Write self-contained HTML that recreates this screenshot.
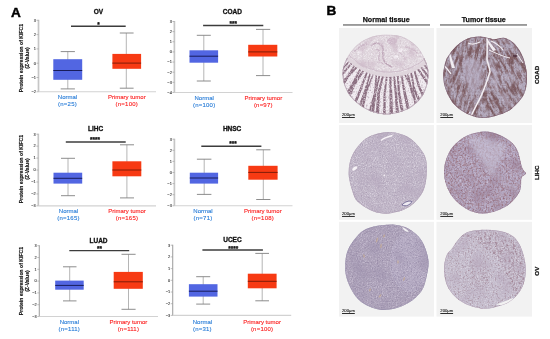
<!DOCTYPE html>
<html><head><meta charset="utf-8"><style>
html,body{margin:0;padding:0;background:#fff;overflow:hidden;}
svg{display:block;}
text{font-family:"Liberation Sans", Arial, sans-serif;}
.tk{font-size:3.9px;fill:#333;stroke:#333;stroke-width:0.1;text-anchor:end;}
.ti{font-size:6.5px;font-weight:bold;fill:#111;stroke:#111;stroke-width:0.3;text-anchor:middle;}
.st{font-size:6.4px;font-weight:bold;fill:#111;stroke:#111;stroke-width:0.25;text-anchor:middle;}
.nl{font-size:6px;fill:#2a7ed8;stroke:#2a7ed8;stroke-width:0.12;text-anchor:middle;}
.tl{font-size:6px;fill:#fc2222;stroke:#fc2222;stroke-width:0.12;text-anchor:middle;}
.l2{letter-spacing:0.22px;}
.yl{font-size:5.1px;font-weight:bold;fill:#111;stroke:#111;stroke-width:0.15;text-anchor:middle;}
.pl{font-size:13.6px;font-weight:bold;fill:#000;stroke:#000;stroke-width:0.45;}
.hd{font-size:7.1px;font-weight:bold;fill:#111;stroke:#111;stroke-width:0.25;text-anchor:middle;}
.rl{font-size:6.2px;font-weight:bold;fill:#111;stroke:#111;stroke-width:0.25;text-anchor:middle;}
.sb{font-size:4.2px;fill:#222;stroke:#222;stroke-width:0.1;}
</style></head><body>
<svg width="550" height="339" viewBox="0 0 550 339">
<defs>
<filter id="f_crn" filterUnits="userSpaceOnUse" x="335" y="25" width="100" height="100" color-interpolation-filters="sRGB"><feTurbulence type="fractalNoise" baseFrequency="0.7" numOctaves="2" seed="11"/><feColorMatrix type="matrix" values="0 0 0 0 0.957 0 0 0 0 0.933 0 0 0 0 0.957 2.2 0 0 0 -1.0"/><feComposite in2="SourceGraphic" operator="in"/></filter><filter id="f_crd" filterUnits="userSpaceOnUse" x="335" y="25" width="100" height="100" color-interpolation-filters="sRGB"><feTurbulence type="fractalNoise" baseFrequency="0.6" numOctaves="2" seed="12"/><feColorMatrix type="matrix" values="0 0 0 0 0.502 0 0 0 0 0.392 0 0 0 0 0.471 1.3 0 0 0 -0.66"/><feComposite in2="SourceGraphic" operator="in"/></filter><clipPath id="lowhalf"><rect x="330" y="58" width="110" height="70"/></clipPath><clipPath id="c_coadn"><path d="M372.5,36.6 C376.9,35.2 380.8,34.8 385.7,34.8 C390.6,34.8 396.8,35.0 401.7,36.6 C406.6,38.2 411.4,41.5 414.9,44.6 C418.4,47.7 420.7,51.0 422.9,55.2 C425.1,59.4 427.5,64.7 428.2,69.8 C428.9,74.9 428.2,80.8 426.9,85.7 C425.6,90.6 423.5,95.0 420.2,99.0 C416.9,103.0 412.3,107.0 407.0,109.6 C401.7,112.2 394.6,114.2 388.4,114.4 C382.2,114.6 375.6,113.2 369.8,110.9 C364.1,108.6 358.1,104.5 353.9,100.3 C349.7,96.1 346.5,90.8 344.6,85.7 C342.8,80.6 342.1,74.9 342.8,69.8 C343.5,64.7 345.9,59.6 348.6,55.2 C351.3,50.8 355.2,46.4 359.2,43.3 C363.2,40.2 368.1,38.0 372.5,36.6Z"/></clipPath><filter id="b_coadn" filterUnits="userSpaceOnUse" x="337.8" y="29.8" width="95.4" height="89.6"><feGaussianBlur stdDeviation="0.35"/></filter><filter id="f_coadn_0" filterUnits="userSpaceOnUse" x="337.8" y="29.799999999999997" width="95.39999999999998" height="89.60000000000001" color-interpolation-filters="sRGB"><feTurbulence type="fractalNoise" baseFrequency="0.5" numOctaves="2" seed="4"/><feColorMatrix type="matrix" values="0 0 0 0 0.761 0 0 0 0 0.678 0 0 0 0 0.741 1.4 0 0 0 -0.65"/><feComposite in2="SourceGraphic" operator="in"/></filter><filter id="f_coadn_1" filterUnits="userSpaceOnUse" x="337.8" y="29.799999999999997" width="95.39999999999998" height="89.60000000000001" color-interpolation-filters="sRGB"><feTurbulence type="fractalNoise" baseFrequency="0.7" numOctaves="2" seed="7"/><feColorMatrix type="matrix" values="0 0 0 0 0.984 0 0 0 0 0.973 0 0 0 0 0.984 1.8 0 0 0 -0.8"/><feComposite in2="SourceGraphic" operator="in"/></filter><filter id="f_coadn_2" filterUnits="userSpaceOnUse" x="337.8" y="29.799999999999997" width="95.39999999999998" height="89.60000000000001" color-interpolation-filters="sRGB"><feTurbulence type="fractalNoise" baseFrequency="0.12 0.1" numOctaves="1" seed="8"/><feColorMatrix type="matrix" values="0 0 0 0 0.804 0 0 0 0 0.725 0 0 0 0 0.784 2.4 0 0 0 -1.15"/><feComposite in2="SourceGraphic" operator="in"/></filter><filter id="soft2" x="-30%" y="-30%" width="160%" height="160%"><feGaussianBlur stdDeviation="1.2"/></filter><filter id="gl_l" filterUnits="userSpaceOnUse" x="400" y="0" width="140" height="160" color-interpolation-filters="sRGB"><feTurbulence type="fractalNoise" baseFrequency="0.34 0.07" numOctaves="2" seed="71"/><feColorMatrix type="matrix" values="0 0 0 0 0.486 0 0 0 0 0.361 0 0 0 0 0.384 4.6 0 0 0 -2.02"/><feComposite in2="SourceGraphic" operator="in"/></filter><filter id="gl_r" filterUnits="userSpaceOnUse" x="400" y="0" width="140" height="160" color-interpolation-filters="sRGB"><feTurbulence type="fractalNoise" baseFrequency="0.34 0.07" numOctaves="2" seed="72"/><feColorMatrix type="matrix" values="0 0 0 0 0.486 0 0 0 0 0.361 0 0 0 0 0.384 4.6 0 0 0 -2.02"/><feComposite in2="SourceGraphic" operator="in"/></filter><clipPath id="hl"><rect x="440" y="30" width="47" height="95"/></clipPath><clipPath id="hr"><rect x="487" y="30" width="45" height="95"/></clipPath><clipPath id="c_coadt"><path d="M466.0,39.2 C470.1,37.2 475.2,36.8 478.9,36.6 C482.6,36.4 485.4,37.5 488.0,37.9 C490.6,38.3 491.7,39.2 494.5,39.2 C497.3,39.2 501.4,37.0 504.8,37.9 C508.2,38.8 512.2,41.2 515.2,44.4 C518.2,47.6 521.0,52.1 523.0,57.3 C525.0,62.5 526.7,69.5 526.9,75.5 C527.1,81.5 526.8,88.1 524.3,93.6 C521.8,99.1 516.2,105.0 512.0,108.5 C507.8,112.0 503.8,113.2 499.0,114.8 C494.2,116.4 488.2,118.1 483.0,118.0 C477.8,117.9 473.0,116.8 468.0,114.3 C463.0,111.8 457.0,108.2 453.0,103.0 C449.0,97.8 445.2,90.0 443.9,83.3 C442.6,76.5 443.5,68.3 445.2,62.5 C446.9,56.7 450.8,52.2 454.3,48.3 C457.8,44.4 461.9,41.2 466.0,39.2Z"/></clipPath><filter id="b_coadt" filterUnits="userSpaceOnUse" x="438.9" y="31.6" width="93.0" height="91.4"><feGaussianBlur stdDeviation="0.5"/></filter><filter id="f_coadt_0" filterUnits="userSpaceOnUse" x="438.9" y="31.6" width="93.0" height="91.4" color-interpolation-filters="sRGB"><feTurbulence type="fractalNoise" baseFrequency="0.35 0.2" numOctaves="2" seed="24"/><feColorMatrix type="matrix" values="0 0 0 0 0.525 0 0 0 0 0.392 0 0 0 0 0.408 2.6 0 0 0 -1.3"/><feComposite in2="SourceGraphic" operator="in"/></filter><filter id="f_coadt_1" filterUnits="userSpaceOnUse" x="438.9" y="31.6" width="93.0" height="91.4" color-interpolation-filters="sRGB"><feTurbulence type="fractalNoise" baseFrequency="0.6" numOctaves="2" seed="23"/><feColorMatrix type="matrix" values="0 0 0 0 0.408 0 0 0 0 0.290 0 0 0 0 0.314 1.2 0 0 0 -0.58"/><feComposite in2="SourceGraphic" operator="in"/></filter><filter id="f_coadt_2" filterUnits="userSpaceOnUse" x="438.9" y="31.6" width="93.0" height="91.4" color-interpolation-filters="sRGB"><feTurbulence type="fractalNoise" baseFrequency="0.5 0.25" numOctaves="2" seed="22"/><feColorMatrix type="matrix" values="0 0 0 0 0.816 0 0 0 0 0.784 0 0 0 0 0.855 1.6 0 0 0 -0.8"/><feComposite in2="SourceGraphic" operator="in"/></filter><clipPath id="c_lihcn"><path d="M381.8,132.8 C386.7,131.8 390.1,131.5 395.0,132.5 C399.9,133.5 406.1,135.3 411.0,139.0 C415.9,142.7 421.6,149.3 424.2,154.5 C426.8,159.7 427.1,164.2 426.9,170.4 C426.7,176.6 426.0,185.5 422.9,191.7 C419.8,197.9 413.8,204.0 408.3,207.6 C402.8,211.2 395.4,212.7 389.7,213.4 C383.9,214.1 379.1,213.5 373.8,211.6 C368.5,209.7 361.5,205.3 358.0,202.0 C354.5,198.7 354.2,196.5 352.6,191.7 C351.0,186.9 348.6,179.2 348.6,173.0 C348.6,166.8 349.7,160.2 352.6,154.5 C355.5,148.8 361.0,142.2 365.9,138.6 C370.8,135.0 376.9,133.8 381.8,132.8Z"/></clipPath><filter id="b_lihcn" filterUnits="userSpaceOnUse" x="343.6" y="127.5" width="88.3" height="90.9"><feGaussianBlur stdDeviation="0.5"/></filter><filter id="f_lihcn_0" filterUnits="userSpaceOnUse" x="343.6" y="127.5" width="88.29999999999995" height="90.9" color-interpolation-filters="sRGB"><feTurbulence type="fractalNoise" baseFrequency="0.8" numOctaves="2" seed="31"/><feColorMatrix type="matrix" values="0 0 0 0 0.635 0 0 0 0 0.580 0 0 0 0 0.675 1.9 0 0 0 -0.9"/><feComposite in2="SourceGraphic" operator="in"/></filter><filter id="f_lihcn_1" filterUnits="userSpaceOnUse" x="343.6" y="127.5" width="88.29999999999995" height="90.9" color-interpolation-filters="sRGB"><feTurbulence type="fractalNoise" baseFrequency="0.9" numOctaves="2" seed="32"/><feColorMatrix type="matrix" values="0 0 0 0 0.902 0 0 0 0 0.878 0 0 0 0 0.918 2.0 0 0 0 -0.95"/><feComposite in2="SourceGraphic" operator="in"/></filter><filter id="f_lihcn_2" filterUnits="userSpaceOnUse" x="343.6" y="127.5" width="88.29999999999995" height="90.9" color-interpolation-filters="sRGB"><feTurbulence type="fractalNoise" baseFrequency="0.07" numOctaves="1" seed="33"/><feColorMatrix type="matrix" values="0 0 0 0 0.706 0 0 0 0 0.651 0 0 0 0 0.737 2.0 0 0 0 -0.95"/><feComposite in2="SourceGraphic" operator="in"/></filter><filter id="soft3" x="-30%" y="-30%" width="160%" height="160%"><feGaussianBlur stdDeviation="2.2"/></filter><clipPath id="c_lihct"><path d="M479.8,132.0 C484.7,131.2 488.5,131.6 493.0,132.8 C497.5,134.0 503.0,136.3 507.0,139.0 C511.0,141.7 514.4,144.4 516.9,149.2 C519.4,154.0 520.7,163.8 522.2,167.8 C523.7,171.9 525.9,171.8 525.8,173.5 C525.7,175.2 522.5,175.0 521.5,178.0 C520.5,181.0 522.1,187.0 519.6,191.7 C517.1,196.4 512.1,202.6 506.3,206.2 C500.5,209.8 491.6,212.9 485.0,213.4 C478.4,213.9 472.2,212.1 466.5,208.9 C460.8,205.7 454.4,200.3 450.6,194.3 C446.9,188.3 444.2,180.2 444.0,173.1 C443.8,166.0 446.0,157.9 449.3,151.9 C452.6,145.9 458.8,140.6 463.9,137.3 C469.0,134.0 474.9,132.8 479.8,132.0Z"/></clipPath><filter id="b_lihct" filterUnits="userSpaceOnUse" x="439.0" y="127.0" width="91.8" height="91.4"><feGaussianBlur stdDeviation="0.5"/></filter><filter id="f_lihct_0" filterUnits="userSpaceOnUse" x="439" y="127" width="91.79999999999995" height="91.4" color-interpolation-filters="sRGB"><feTurbulence type="fractalNoise" baseFrequency="0.6" numOctaves="2" seed="41"/><feColorMatrix type="matrix" values="0 0 0 0 0.557 0 0 0 0 0.392 0 0 0 0 0.439 2.6 0 0 0 -1.2"/><feComposite in2="SourceGraphic" operator="in"/></filter><filter id="f_lihct_1" filterUnits="userSpaceOnUse" x="439" y="127" width="91.79999999999995" height="91.4" color-interpolation-filters="sRGB"><feTurbulence type="fractalNoise" baseFrequency="0.55" numOctaves="2" seed="42"/><feColorMatrix type="matrix" values="0 0 0 0 0.824 0 0 0 0 0.792 0 0 0 0 0.871 2.0 0 0 0 -0.95"/><feComposite in2="SourceGraphic" operator="in"/></filter><filter id="f_lihct_2" filterUnits="userSpaceOnUse" x="439" y="127" width="91.79999999999995" height="91.4" color-interpolation-filters="sRGB"><feTurbulence type="fractalNoise" baseFrequency="0.07" numOctaves="1" seed="43"/><feColorMatrix type="matrix" values="0 0 0 0 0.604 0 0 0 0 0.502 0 0 0 0 0.596 2.0 0 0 0 -0.95"/><feComposite in2="SourceGraphic" operator="in"/></filter><filter id="f_lihct_3" filterUnits="userSpaceOnUse" x="439" y="127" width="91.79999999999995" height="91.4" color-interpolation-filters="sRGB"><feTurbulence type="fractalNoise" baseFrequency="0.5 0.3" numOctaves="2" seed="44"/><feColorMatrix type="matrix" values="0 0 0 0 0.627 0 0 0 0 0.478 0 0 0 0 0.525 2.0 0 0 0 -0.95"/><feComposite in2="SourceGraphic" operator="in"/></filter><clipPath id="c_ovn"><path d="M381.8,225.2 C385.8,224.8 390.6,224.1 395.0,224.7 C399.4,225.3 403.9,225.9 408.3,228.6 C412.7,231.2 418.3,235.5 421.6,240.6 C424.9,245.7 427.3,253.4 428.2,259.1 C429.1,264.8 428.0,269.7 426.9,275.0 C425.8,280.3 424.7,286.4 421.6,291.0 C418.5,295.6 413.6,299.8 408.3,302.9 C403.0,306.0 395.4,308.6 389.7,309.5 C383.9,310.4 379.1,310.0 373.8,308.2 C368.5,306.4 362.3,303.5 357.9,298.9 C353.5,294.3 349.4,286.1 347.3,280.4 C345.2,274.6 345.0,269.7 345.2,264.4 C345.4,259.1 346.0,253.8 348.6,248.5 C351.2,243.2 356.8,236.1 360.6,232.6 C364.4,229.1 367.7,228.5 371.2,227.3 C374.7,226.1 377.8,225.6 381.8,225.2Z"/></clipPath><filter id="b_ovn" filterUnits="userSpaceOnUse" x="340.2" y="219.7" width="93.0" height="94.8"><feGaussianBlur stdDeviation="0.5"/></filter><filter id="f_ovn_0" filterUnits="userSpaceOnUse" x="340.2" y="219.7" width="93.0" height="94.80000000000001" color-interpolation-filters="sRGB"><feTurbulence type="fractalNoise" baseFrequency="0.8" numOctaves="2" seed="51"/><feColorMatrix type="matrix" values="0 0 0 0 0.557 0 0 0 0 0.510 0 0 0 0 0.627 2.0 0 0 0 -0.95"/><feComposite in2="SourceGraphic" operator="in"/></filter><filter id="f_ovn_1" filterUnits="userSpaceOnUse" x="340.2" y="219.7" width="93.0" height="94.80000000000001" color-interpolation-filters="sRGB"><feTurbulence type="fractalNoise" baseFrequency="0.8" numOctaves="2" seed="52"/><feColorMatrix type="matrix" values="0 0 0 0 0.816 0 0 0 0 0.784 0 0 0 0 0.855 2.1 0 0 0 -1.0"/><feComposite in2="SourceGraphic" operator="in"/></filter><filter id="f_ovn_2" filterUnits="userSpaceOnUse" x="340.2" y="219.7" width="93.0" height="94.80000000000001" color-interpolation-filters="sRGB"><feTurbulence type="fractalNoise" baseFrequency="0.06" numOctaves="1" seed="53"/><feColorMatrix type="matrix" values="0 0 0 0 0.620 0 0 0 0 0.573 0 0 0 0 0.682 2.0 0 0 0 -0.95"/><feComposite in2="SourceGraphic" operator="in"/></filter><filter id="ovt_bl" filterUnits="userSpaceOnUse" x="440" y="225" width="90" height="90" color-interpolation-filters="sRGB"><feTurbulence type="fractalNoise" baseFrequency="0.45 0.4" numOctaves="2" seed="81"/><feColorMatrix type="matrix" values="0 0 0 0 0.596 0 0 0 0 0.471 0 0 0 0 0.541 2.4 0 0 0 -1.1"/><feComposite in2="SourceGraphic" operator="in"/></filter><clipPath id="ovt_arc"><path d="M462,236 C482,226 508,232 520,248 C528,262 526,284 516,298 C510,290 508,276 502,264 C494,252 480,244 462,236Z"/></clipPath><clipPath id="ovt_mid"><path d="M470,262 C478,258 486,262 490,270 C492,280 486,290 478,292 C470,286 468,274 470,262Z"/></clipPath><clipPath id="c_ovt"><path d="M466.5,232.6 C470.1,230.9 474.5,230.3 479.8,230.0 C485.1,229.7 493.1,229.9 498.4,230.8 C503.7,231.7 508.1,233.0 511.6,235.3 C515.1,237.6 517.4,240.4 519.6,244.6 C521.8,248.8 523.9,255.2 524.9,260.5 C525.9,265.8 526.1,271.5 525.4,276.4 C524.7,281.3 523.2,285.7 520.9,289.7 C518.6,293.7 514.9,297.6 511.6,300.3 C508.3,303.0 505.4,304.2 501.0,305.6 C496.6,307.0 490.3,308.8 485.0,308.8 C479.7,308.8 474.1,307.5 469.2,305.6 C464.3,303.7 459.7,301.1 455.9,297.6 C452.1,294.1 448.6,289.3 446.6,284.4 C444.6,279.5 444.0,273.3 444.0,268.4 C444.0,263.5 445.3,258.5 446.6,255.2 C447.9,251.9 450.1,251.0 452.0,248.5 C453.9,246.0 455.6,242.7 458.0,240.0 C460.4,237.3 462.9,234.3 466.5,232.6Z"/></clipPath><filter id="b_ovt" filterUnits="userSpaceOnUse" x="439.0" y="225.0" width="91.4" height="88.8"><feGaussianBlur stdDeviation="0.5"/></filter><filter id="f_ovt_0" filterUnits="userSpaceOnUse" x="439" y="225" width="91.39999999999998" height="88.80000000000001" color-interpolation-filters="sRGB"><feTurbulence type="fractalNoise" baseFrequency="0.6" numOctaves="2" seed="61"/><feColorMatrix type="matrix" values="0 0 0 0 0.596 0 0 0 0 0.471 0 0 0 0 0.533 2.0 0 0 0 -1.0"/><feComposite in2="SourceGraphic" operator="in"/></filter><filter id="f_ovt_1" filterUnits="userSpaceOnUse" x="439" y="225" width="91.39999999999998" height="88.80000000000001" color-interpolation-filters="sRGB"><feTurbulence type="fractalNoise" baseFrequency="0.7" numOctaves="2" seed="62"/><feColorMatrix type="matrix" values="0 0 0 0 0.894 0 0 0 0 0.878 0 0 0 0 0.918 2.0 0 0 0 -0.95"/><feComposite in2="SourceGraphic" operator="in"/></filter><filter id="f_ovt_2" filterUnits="userSpaceOnUse" x="439" y="225" width="91.39999999999998" height="88.80000000000001" color-interpolation-filters="sRGB"><feTurbulence type="fractalNoise" baseFrequency="0.07" numOctaves="1" seed="63"/><feColorMatrix type="matrix" values="0 0 0 0 0.722 0 0 0 0 0.667 0 0 0 0 0.745 2.0 0 0 0 -0.95"/><feComposite in2="SourceGraphic" operator="in"/></filter>
<filter id="nz" x="0" y="0" width="100%" height="100%">
<feTurbulence type="fractalNoise" baseFrequency="0.35" numOctaves="2" seed="3"/>
<feColorMatrix type="matrix" values="0 0 0 0 1  0 0 0 0 1  0 0 0 0 1  1.6 0 0 0 -0.75"/>
<feComposite in2="SourceGraphic" operator="in"/>
</filter>
</defs>
<rect width="550" height="339" fill="#fff"/>
<text x="11" y="16.9" class="pl">A</text>
<text x="326.6" y="15.4" class="pl">B</text>
<line x1="38.5" y1="19.8" x2="38.5" y2="91.8" stroke="#c6c6c6" stroke-width="1.7"/>
<line x1="38.5" y1="91.8" x2="156" y2="91.8" stroke="#d2d2d2" stroke-width="1.1"/>
<line x1="36.5" y1="20.3" x2="38.5" y2="20.3" stroke="#999" stroke-width="0.6"/>
<text x="35.9" y="21.6" class="tk">3</text>
<line x1="36.5" y1="34.6" x2="38.5" y2="34.6" stroke="#999" stroke-width="0.6"/>
<text x="35.9" y="35.9" class="tk">2</text>
<line x1="36.5" y1="48.9" x2="38.5" y2="48.9" stroke="#999" stroke-width="0.6"/>
<text x="35.9" y="50.2" class="tk">1</text>
<line x1="36.5" y1="63.2" x2="38.5" y2="63.2" stroke="#999" stroke-width="0.6"/>
<text x="35.9" y="64.5" class="tk">0</text>
<line x1="36.5" y1="77.5" x2="38.5" y2="77.5" stroke="#999" stroke-width="0.6"/>
<text x="35.9" y="78.8" class="tk">−1</text>
<line x1="36.5" y1="91.8" x2="38.5" y2="91.8" stroke="#999" stroke-width="0.6"/>
<text x="35.9" y="93.1" class="tk">−2</text>
<text x="98.5" y="13.5" class="ti">OV</text>
<line x1="71" y1="26.3" x2="125.7" y2="26.3" stroke="#3c3c3c" stroke-width="1.4"/>
<text x="98.5" y="26.7" class="st">*</text>
<line x1="67.8" y1="51.6" x2="67.8" y2="88.9" stroke="#9c9c9c" stroke-width="0.75"/>
<line x1="60.7" y1="51.6" x2="74.9" y2="51.6" stroke="#808080" stroke-width="0.9"/>
<line x1="60.7" y1="88.9" x2="74.9" y2="88.9" stroke="#808080" stroke-width="0.9"/>
<rect x="53.3" y="59.2" width="28.9" height="20.6" fill="#5266e2"/>
<line x1="53.3" y1="70.5" x2="82.2" y2="70.5" stroke="#181c5a" stroke-width="1"/>
<line x1="126.3" y1="33" x2="126.3" y2="88.2" stroke="#9c9c9c" stroke-width="0.75"/>
<line x1="119.8" y1="33" x2="133.6" y2="33" stroke="#808080" stroke-width="0.9"/>
<line x1="119.8" y1="88.2" x2="133.6" y2="88.2" stroke="#808080" stroke-width="0.9"/>
<rect x="112.4" y="53.9" width="28.7" height="14.9" fill="#f73a13"/>
<line x1="112.4" y1="63.1" x2="141.1" y2="63.1" stroke="#801c08" stroke-width="1"/>
<text x="67.5" y="99" class="nl">Normal</text>
<text x="67.5" y="106.3" class="nl l2">(n=25)</text>
<text x="126.8" y="99" class="tl">Primary tumor</text>
<text x="126.8" y="106.3" class="tl l2">(n=100)</text>
<text transform="translate(23.2 58.05) rotate(-90)" class="yl">Protein expression of KIFC1</text>
<text transform="translate(29.2 58.05) rotate(-90)" class="yl">(Z-Value)</text>
<line x1="174.4" y1="21" x2="174.4" y2="92.48" stroke="#c6c6c6" stroke-width="1.7"/>
<line x1="174.4" y1="92.48" x2="292.5" y2="92.48" stroke="#d2d2d2" stroke-width="1.1"/>
<line x1="172.4" y1="21.5" x2="174.4" y2="21.5" stroke="#999" stroke-width="0.6"/>
<text x="171.8" y="22.8" class="tk">3</text>
<line x1="172.4" y1="31.64" x2="174.4" y2="31.64" stroke="#999" stroke-width="0.6"/>
<text x="171.8" y="32.94" class="tk">2</text>
<line x1="172.4" y1="41.78" x2="174.4" y2="41.78" stroke="#999" stroke-width="0.6"/>
<text x="171.8" y="43.08" class="tk">1</text>
<line x1="172.4" y1="51.92" x2="174.4" y2="51.92" stroke="#999" stroke-width="0.6"/>
<text x="171.8" y="53.22" class="tk">0</text>
<line x1="172.4" y1="62.06" x2="174.4" y2="62.06" stroke="#999" stroke-width="0.6"/>
<text x="171.8" y="63.36" class="tk">−1</text>
<line x1="172.4" y1="72.2" x2="174.4" y2="72.2" stroke="#999" stroke-width="0.6"/>
<text x="171.8" y="73.5" class="tk">−2</text>
<line x1="172.4" y1="82.34" x2="174.4" y2="82.34" stroke="#999" stroke-width="0.6"/>
<text x="171.8" y="83.64" class="tk">−3</text>
<line x1="172.4" y1="92.48" x2="174.4" y2="92.48" stroke="#999" stroke-width="0.6"/>
<text x="171.8" y="93.78" class="tk">−4</text>
<text x="232.3" y="13.5" class="ti">COAD</text>
<line x1="203.1" y1="25.5" x2="263.3" y2="25.5" stroke="#3c3c3c" stroke-width="1.4"/>
<text x="233.3" y="25.8" class="st">***</text>
<line x1="203.8" y1="35.3" x2="203.8" y2="81" stroke="#9c9c9c" stroke-width="0.75"/>
<line x1="196.8" y1="35.3" x2="210.8" y2="35.3" stroke="#808080" stroke-width="0.9"/>
<line x1="196.8" y1="81" x2="210.8" y2="81" stroke="#808080" stroke-width="0.9"/>
<rect x="189.5" y="50.3" width="28.6" height="12.4" fill="#5266e2"/>
<line x1="189.5" y1="56.2" x2="218.1" y2="56.2" stroke="#181c5a" stroke-width="1"/>
<line x1="263" y1="29.4" x2="263" y2="75.6" stroke="#9c9c9c" stroke-width="0.75"/>
<line x1="256" y1="29.4" x2="270.2" y2="29.4" stroke="#808080" stroke-width="0.9"/>
<line x1="256" y1="75.6" x2="270.2" y2="75.6" stroke="#808080" stroke-width="0.9"/>
<rect x="248.2" y="44.8" width="29.1" height="11.7" fill="#f73a13"/>
<line x1="248.2" y1="51.9" x2="277.3" y2="51.9" stroke="#801c08" stroke-width="1"/>
<text x="204.2" y="99.8" class="nl">Normal</text>
<text x="204.2" y="107.1" class="nl l2">(n=100)</text>
<text x="263.3" y="99.8" class="tl">Primary tumor</text>
<text x="263.3" y="107.1" class="tl l2">(n=97)</text>
<line x1="38.3" y1="133.7" x2="38.3" y2="205.9" stroke="#c6c6c6" stroke-width="1.7"/>
<line x1="38.3" y1="205.9" x2="156" y2="205.9" stroke="#d2d2d2" stroke-width="1.1"/>
<line x1="36.3" y1="134.2" x2="38.3" y2="134.2" stroke="#999" stroke-width="0.6"/>
<text x="35.7" y="135.5" class="tk">3</text>
<line x1="36.3" y1="146.15" x2="38.3" y2="146.15" stroke="#999" stroke-width="0.6"/>
<text x="35.7" y="147.45" class="tk">2</text>
<line x1="36.3" y1="158.1" x2="38.3" y2="158.1" stroke="#999" stroke-width="0.6"/>
<text x="35.7" y="159.4" class="tk">1</text>
<line x1="36.3" y1="170.05" x2="38.3" y2="170.05" stroke="#999" stroke-width="0.6"/>
<text x="35.7" y="171.35" class="tk">0</text>
<line x1="36.3" y1="182" x2="38.3" y2="182" stroke="#999" stroke-width="0.6"/>
<text x="35.7" y="183.3" class="tk">−1</text>
<line x1="36.3" y1="193.95" x2="38.3" y2="193.95" stroke="#999" stroke-width="0.6"/>
<text x="35.7" y="195.25" class="tk">−2</text>
<line x1="36.3" y1="205.9" x2="38.3" y2="205.9" stroke="#999" stroke-width="0.6"/>
<text x="35.7" y="207.2" class="tk">−3</text>
<text x="95.5" y="131" class="ti">LIHC</text>
<line x1="65.8" y1="142" x2="125.7" y2="142" stroke="#3c3c3c" stroke-width="1.4"/>
<text x="95" y="141.8" class="st">****</text>
<line x1="68" y1="158.3" x2="68" y2="195.7" stroke="#9c9c9c" stroke-width="0.75"/>
<line x1="61" y1="158.3" x2="75" y2="158.3" stroke="#808080" stroke-width="0.9"/>
<line x1="61" y1="195.7" x2="75" y2="195.7" stroke="#808080" stroke-width="0.9"/>
<rect x="53.5" y="172.7" width="28.7" height="10.9" fill="#5266e2"/>
<line x1="53.5" y1="178.3" x2="82.2" y2="178.3" stroke="#181c5a" stroke-width="1"/>
<line x1="126.9" y1="144.8" x2="126.9" y2="197.9" stroke="#9c9c9c" stroke-width="0.75"/>
<line x1="120" y1="144.8" x2="134" y2="144.8" stroke="#808080" stroke-width="0.9"/>
<line x1="120" y1="197.9" x2="134" y2="197.9" stroke="#808080" stroke-width="0.9"/>
<rect x="112.4" y="161.3" width="28.9" height="15" fill="#f73a13"/>
<line x1="112.4" y1="170" x2="141.3" y2="170" stroke="#801c08" stroke-width="1"/>
<text x="68.5" y="212.8" class="nl">Normal</text>
<text x="68.5" y="220.1" class="nl l2">(n=165)</text>
<text x="127" y="212.8" class="tl">Primary tumor</text>
<text x="127" y="220.1" class="tl l2">(n=165)</text>
<text transform="translate(23.2 169.05) rotate(-90)" class="yl">Protein expression of KIFC1</text>
<text transform="translate(29.2 169.05) rotate(-90)" class="yl">(Z-Value)</text>
<line x1="174.4" y1="138.7" x2="174.4" y2="205.8" stroke="#c6c6c6" stroke-width="1.7"/>
<line x1="174.4" y1="205.8" x2="292.5" y2="205.8" stroke="#d2d2d2" stroke-width="1.1"/>
<line x1="172.4" y1="139.2" x2="174.4" y2="139.2" stroke="#999" stroke-width="0.6"/>
<text x="171.8" y="140.5" class="tk">3</text>
<line x1="172.4" y1="150.3" x2="174.4" y2="150.3" stroke="#999" stroke-width="0.6"/>
<text x="171.8" y="151.6" class="tk">2</text>
<line x1="172.4" y1="161.4" x2="174.4" y2="161.4" stroke="#999" stroke-width="0.6"/>
<text x="171.8" y="162.7" class="tk">1</text>
<line x1="172.4" y1="172.5" x2="174.4" y2="172.5" stroke="#999" stroke-width="0.6"/>
<text x="171.8" y="173.8" class="tk">0</text>
<line x1="172.4" y1="183.6" x2="174.4" y2="183.6" stroke="#999" stroke-width="0.6"/>
<text x="171.8" y="184.9" class="tk">−1</text>
<line x1="172.4" y1="194.7" x2="174.4" y2="194.7" stroke="#999" stroke-width="0.6"/>
<text x="171.8" y="196" class="tk">−2</text>
<line x1="172.4" y1="205.8" x2="174.4" y2="205.8" stroke="#999" stroke-width="0.6"/>
<text x="171.8" y="207.1" class="tk">−3</text>
<text x="232.1" y="131" class="ti">HNSC</text>
<line x1="201.3" y1="146.2" x2="261.4" y2="146.2" stroke="#3c3c3c" stroke-width="1.4"/>
<text x="233" y="145.9" class="st">***</text>
<line x1="204.2" y1="159.2" x2="204.2" y2="194.4" stroke="#9c9c9c" stroke-width="0.75"/>
<line x1="196.9" y1="159.2" x2="211.4" y2="159.2" stroke="#808080" stroke-width="0.9"/>
<line x1="196.9" y1="194.4" x2="211.4" y2="194.4" stroke="#808080" stroke-width="0.9"/>
<rect x="189.8" y="172.7" width="28.3" height="10.9" fill="#5266e2"/>
<line x1="189.8" y1="178" x2="218.1" y2="178" stroke="#181c5a" stroke-width="1"/>
<line x1="263.3" y1="149.8" x2="263.3" y2="199.5" stroke="#9c9c9c" stroke-width="0.75"/>
<line x1="256.2" y1="149.8" x2="270.4" y2="149.8" stroke="#808080" stroke-width="0.9"/>
<line x1="256.2" y1="199.5" x2="270.4" y2="199.5" stroke="#808080" stroke-width="0.9"/>
<rect x="248.3" y="165.8" width="29.3" height="13.9" fill="#f73a13"/>
<line x1="248.3" y1="172.4" x2="277.6" y2="172.4" stroke="#801c08" stroke-width="1"/>
<text x="203" y="212.8" class="nl">Normal</text>
<text x="203" y="220.1" class="nl l2">(n=71)</text>
<text x="262.8" y="212.8" class="tl">Primary tumor</text>
<text x="262.8" y="220.1" class="tl l2">(n=108)</text>
<line x1="39.3" y1="245.2" x2="39.3" y2="316.5" stroke="#a4a4a4" stroke-width="1.1"/>
<line x1="39.3" y1="316.5" x2="158" y2="316.5" stroke="#d2d2d2" stroke-width="1.1"/>
<line x1="37.3" y1="245.7" x2="39.3" y2="245.7" stroke="#999" stroke-width="0.6"/>
<text x="36.7" y="247" class="tk">3</text>
<line x1="37.3" y1="257.5" x2="39.3" y2="257.5" stroke="#999" stroke-width="0.6"/>
<text x="36.7" y="258.8" class="tk">2</text>
<line x1="37.3" y1="269.3" x2="39.3" y2="269.3" stroke="#999" stroke-width="0.6"/>
<text x="36.7" y="270.6" class="tk">1</text>
<line x1="37.3" y1="281.1" x2="39.3" y2="281.1" stroke="#999" stroke-width="0.6"/>
<text x="36.7" y="282.4" class="tk">0</text>
<line x1="37.3" y1="292.9" x2="39.3" y2="292.9" stroke="#999" stroke-width="0.6"/>
<text x="36.7" y="294.2" class="tk">−1</text>
<line x1="37.3" y1="304.7" x2="39.3" y2="304.7" stroke="#999" stroke-width="0.6"/>
<text x="36.7" y="306" class="tk">−2</text>
<line x1="37.3" y1="316.5" x2="39.3" y2="316.5" stroke="#999" stroke-width="0.6"/>
<text x="36.7" y="317.8" class="tk">−3</text>
<text x="98.5" y="243.2" class="ti">LUAD</text>
<line x1="69.3" y1="250.6" x2="129.2" y2="250.6" stroke="#3c3c3c" stroke-width="1.4"/>
<text x="99.5" y="250.5" class="st">**</text>
<line x1="69.7" y1="266.8" x2="69.7" y2="300.9" stroke="#9c9c9c" stroke-width="0.75"/>
<line x1="63" y1="266.8" x2="76.5" y2="266.8" stroke="#808080" stroke-width="0.9"/>
<line x1="63" y1="300.9" x2="76.5" y2="300.9" stroke="#808080" stroke-width="0.9"/>
<rect x="55.2" y="280.6" width="28.5" height="9.1" fill="#5266e2"/>
<line x1="55.2" y1="285.4" x2="83.7" y2="285.4" stroke="#181c5a" stroke-width="1"/>
<line x1="128.5" y1="254.3" x2="128.5" y2="309.3" stroke="#9c9c9c" stroke-width="0.75"/>
<line x1="121.5" y1="254.3" x2="135.6" y2="254.3" stroke="#808080" stroke-width="0.9"/>
<line x1="121.5" y1="309.3" x2="135.6" y2="309.3" stroke="#808080" stroke-width="0.9"/>
<rect x="113.7" y="271.9" width="29.1" height="16.9" fill="#f73a13"/>
<line x1="113.7" y1="281.8" x2="142.8" y2="281.8" stroke="#801c08" stroke-width="1"/>
<text x="69.3" y="323.8" class="nl">Normal</text>
<text x="69.3" y="331.1" class="nl l2">(n=111)</text>
<text x="128.4" y="323.8" class="tl">Primary tumor</text>
<text x="128.4" y="331.1" class="tl l2">(n=111)</text>
<text transform="translate(23.2 281.1) rotate(-90)" class="yl">Protein expression of KIFC1</text>
<text transform="translate(29.2 281.1) rotate(-90)" class="yl">(Z-Value)</text>
<line x1="172.7" y1="244.7" x2="172.7" y2="315.4" stroke="#a4a4a4" stroke-width="1.1"/>
<line x1="172.7" y1="315.4" x2="291.2" y2="315.4" stroke="#d2d2d2" stroke-width="1.1"/>
<line x1="170.7" y1="245.2" x2="172.7" y2="245.2" stroke="#999" stroke-width="0.6"/>
<text x="170.1" y="246.5" class="tk">3</text>
<line x1="170.7" y1="256.9" x2="172.7" y2="256.9" stroke="#999" stroke-width="0.6"/>
<text x="170.1" y="258.2" class="tk">2</text>
<line x1="170.7" y1="268.6" x2="172.7" y2="268.6" stroke="#999" stroke-width="0.6"/>
<text x="170.1" y="269.9" class="tk">1</text>
<line x1="170.7" y1="280.3" x2="172.7" y2="280.3" stroke="#999" stroke-width="0.6"/>
<text x="170.1" y="281.6" class="tk">0</text>
<line x1="170.7" y1="292" x2="172.7" y2="292" stroke="#999" stroke-width="0.6"/>
<text x="170.1" y="293.3" class="tk">−1</text>
<line x1="170.7" y1="303.7" x2="172.7" y2="303.7" stroke="#999" stroke-width="0.6"/>
<text x="170.1" y="305" class="tk">−2</text>
<line x1="170.7" y1="315.4" x2="172.7" y2="315.4" stroke="#999" stroke-width="0.6"/>
<text x="170.1" y="316.7" class="tk">−3</text>
<text x="232.4" y="242.2" class="ti">UCEC</text>
<line x1="202.4" y1="250" x2="262.9" y2="250" stroke="#3c3c3c" stroke-width="1.4"/>
<text x="233.3" y="250.8" class="st">****</text>
<line x1="203.2" y1="276.7" x2="203.2" y2="304.1" stroke="#9c9c9c" stroke-width="0.75"/>
<line x1="196.2" y1="276.7" x2="210.2" y2="276.7" stroke="#808080" stroke-width="0.9"/>
<line x1="196.2" y1="304.1" x2="210.2" y2="304.1" stroke="#808080" stroke-width="0.9"/>
<rect x="188.9" y="284.2" width="28.6" height="12.4" fill="#5266e2"/>
<line x1="188.9" y1="291.2" x2="217.5" y2="291.2" stroke="#181c5a" stroke-width="1"/>
<line x1="262.2" y1="253.4" x2="262.2" y2="300.8" stroke="#9c9c9c" stroke-width="0.75"/>
<line x1="255.3" y1="253.4" x2="269" y2="253.4" stroke="#808080" stroke-width="0.9"/>
<line x1="255.3" y1="300.8" x2="269" y2="300.8" stroke="#808080" stroke-width="0.9"/>
<rect x="247.8" y="273.7" width="28.8" height="14.6" fill="#f73a13"/>
<line x1="247.8" y1="281.3" x2="276.6" y2="281.3" stroke="#801c08" stroke-width="1"/>
<text x="202.4" y="323.8" class="nl">Normal</text>
<text x="202.4" y="331.1" class="nl l2">(n=31)</text>
<text x="262.1" y="323.8" class="tl">Primary tumor</text>
<text x="262.1" y="331.1" class="tl l2">(n=100)</text>
<rect x="339" y="28" width="95" height="95" fill="#f2f2f2"/>
<rect x="436.5" y="28" width="95.5" height="95" fill="#f2f2f2"/>
<rect x="339" y="125" width="95" height="94.8" fill="#f2f2f2"/>
<rect x="436.5" y="125" width="95.5" height="94.8" fill="#f2f2f2"/>
<rect x="339" y="221.8" width="95" height="94.8" fill="#f2f2f2"/>
<rect x="436.5" y="221.8" width="95.5" height="94.8" fill="#f2f2f2"/>
<g filter="url(#b_coadn)"><g clip-path="url(#c_coadn)">
<rect x="339.8" y="31.8" width="91.4" height="85.6" fill="#e1d8df"/>
<path d="M371,46 C377,40 384,44 383,52 C382,58 384,64 392,67" stroke="#bea6b8" stroke-width="1.6" fill="none"/>
<path d="M376,50 C379,48 380,52 379,56 C378,60 380,63 384,64" stroke="#c8b2c3" stroke-width="1.1" fill="none"/>
<ellipse cx="392" cy="41" rx="5" ry="3.5" fill="#cab4c5" opacity="0.8"/>
<path d="M354,52 C358,47 362,45 367,44" stroke="#c8b4c4" stroke-width="1.3" fill="none"/>
<path d="M404,47 C410,47 415,50 418,54" stroke="#cdb9c8" stroke-width="1.3" fill="none"/>
<path d="M396,50 C400,52 404,56 406,60" stroke="#d0bccb" stroke-width="1" fill="none"/>
<ellipse cx="400" cy="50" rx="3" ry="2" fill="#f6f2f6" opacity="0.9"/>
<ellipse cx="407" cy="55" rx="2.5" ry="1.6" fill="#f6f2f6" opacity="0.9"/>
<ellipse cx="396" cy="57" rx="2" ry="1.5" fill="#f6f2f6" opacity="0.9"/>
<ellipse cx="412" cy="47" rx="2" ry="1.4" fill="#f6f2f6" opacity="0.9"/>
<ellipse cx="360" cy="52" rx="2.5" ry="1.5" fill="#f6f2f6" opacity="0.9"/>
<rect x="339.8" y="31.8" width="91.4" height="85.6" filter="url(#f_coadn_0)"/>
<rect x="339.8" y="31.8" width="91.4" height="85.6" filter="url(#f_coadn_1)"/>
<rect x="339.8" y="31.8" width="91.4" height="85.6" filter="url(#f_coadn_2)"/>
<path d="M252,17 A137 137 0 0 0 526,17 L446,17 A57 57 0 0 1 332,17 Z" fill="#f0ebf0"/>
<path d="M446.2,31.3 L463.4,36.8 L521.9,50.1 L521.0,53.7 L462.9,38.7 L445.8,32.8Z M445.3,34.5 L462.8,38.9 L519.8,57.6 L518.7,61.3 L462.2,40.9 L444.8,36.1Z M444.3,37.5 L462.4,40.4 L517.5,64.6 L516.1,68.1 L461.7,42.4 L443.7,39.0Z M443.2,40.4 L460.9,44.6 L514.8,71.3 L513.3,74.7 L460.1,46.5 L442.5,41.8Z M441.7,43.5 L459.0,49.0 L511.4,78.6 L509.3,82.5 L458.0,51.3 L440.8,45.2Z M440.1,46.5 L453.9,58.5 L507.6,85.6 L505.5,89.1 L452.6,60.4 L439.2,48.0Z M438.4,49.3 L451.3,62.2 L503.6,92.1 L501.3,95.5 L449.9,64.1 L437.4,50.8Z M436.3,52.3 L451.7,61.7 L498.9,98.9 L496.4,102.1 L450.3,63.5 L435.2,53.6Z M434.4,54.7 L449.2,65.1 L494.4,104.6 L492.1,107.2 L447.9,66.6 L433.4,55.8Z M432.3,57.1 L445.0,69.8 L489.5,110.2 L486.6,113.1 L443.4,71.5 L431.0,58.4Z M429.6,59.8 L441.7,73.1 L483.3,116.4 L480.2,119.2 L440.0,74.7 L428.3,61.0Z M426.9,62.2 L440.2,74.5 L477.0,122.0 L474.5,124.1 L438.8,75.7 L425.8,63.1Z M424.5,64.2 L436.4,77.7 L471.3,126.5 L467.9,129.0 L434.5,79.1 L423.0,65.2Z M421.5,66.3 L432.7,80.4 L464.4,131.4 L460.9,133.6 L430.7,81.7 L419.9,67.2Z M418.4,68.1 L429.1,82.7 L457.4,135.7 L453.2,138.0 L426.8,84.1 L416.7,69.1Z M415.1,69.9 L420.5,87.3 L449.7,139.8 L445.8,141.7 L418.3,88.2 L413.5,70.7Z M411.9,71.4 L415.4,89.3 L442.2,143.3 L438.3,144.8 L413.2,90.1 L410.2,72.0Z M408.5,72.7 L412.5,90.3 L434.2,146.3 L430.6,147.5 L410.5,90.9 L406.9,73.2Z M405.4,73.7 L413.8,89.9 L427.1,148.6 L423.4,149.6 L411.8,90.6 L403.8,74.1Z M402.3,74.5 L405.8,92.1 L419.9,150.5 L415.4,151.4 L403.3,92.7 L400.4,74.9Z M398.7,75.2 L400.2,93.2 L411.6,152.1 L407.3,152.8 L397.8,93.5 L396.9,75.5Z M395.0,75.7 L397.1,93.6 L402.8,153.3 L398.5,153.7 L394.7,93.8 L393.1,75.9Z M391.4,76.0 L392.3,93.9 L394.6,153.9 L389.5,154.0 L389.5,94.0 L389.2,76.0Z M387.6,76.0 L385.6,93.9 L385.8,154.0 L381.9,153.8 L383.5,93.8 L385.9,75.9Z M384.0,75.8 L380.0,93.5 L377.3,153.5 L372.5,153.0 L377.3,93.1 L381.9,75.6Z M380.4,75.4 L376.5,93.0 L369.0,152.5 L365.2,151.9 L374.3,92.6 L378.7,75.1Z M377.1,74.8 L376.0,92.9 L361.4,151.2 L357.8,150.4 L374.0,92.5 L375.6,74.4Z M374.1,74.1 L367.5,91.0 L354.4,149.6 L351.1,148.7 L365.7,90.4 L372.7,73.7Z M371.0,73.2 L366.3,90.6 L347.3,147.5 L343.9,146.4 L364.4,90.0 L369.6,72.7Z M368.0,72.1 L362.0,89.1 L340.3,145.0 L336.5,143.5 L359.8,88.3 L366.4,71.5Z M364.5,70.7 L354.8,86.0 L332.1,141.6 L327.9,139.6 L352.5,84.8 L362.7,69.8Z M361.3,69.1 L353.5,85.3 L324.7,138.0 L321.0,135.9 L351.3,84.2 L359.7,68.2Z M358.0,67.2 L345.6,80.6 L317.1,133.6 L313.3,131.2 L343.6,79.2 L356.4,66.2Z M355.2,65.4 L346.6,81.3 L310.5,129.3 L307.6,127.2 L345.0,80.2 L354.0,64.5Z M352.6,63.4 L341.0,77.2 L304.5,124.8 L301.5,122.4 L339.3,75.8 L351.3,62.4Z M350.1,61.4 L338.7,75.3 L298.6,120.0 L296.1,117.7 L337.2,74.0 L349.0,60.4Z M347.7,59.1 L332.6,69.4 L293.0,114.8 L290.1,111.8 L331.1,67.7 L346.4,57.8Z M345.3,56.7 L331.4,68.1 L287.6,109.1 L284.7,105.8 L329.8,66.2 L344.1,55.2Z M342.9,53.9 L327.0,62.7 L282.1,102.6 L279.7,99.6 L325.8,60.9 L341.9,52.6Z M340.8,51.0 L324.7,59.4 L277.0,95.9 L274.2,91.8 L323.3,57.1 L339.6,49.2Z M338.7,47.8 L325.0,59.8 L272.2,88.6 L270.2,85.2 L323.8,57.9 L337.8,46.4Z M337.0,44.9 L322.8,56.3 L268.3,81.7 L266.5,78.3 L321.7,54.4 L336.2,43.4Z M335.4,41.6 L319.6,50.3 L264.5,74.2 L263.1,71.0 L318.7,48.5 L334.8,40.2Z M334.1,38.6 L318.4,47.7 L261.6,67.3 L260.4,64.2 L317.7,46.0 L333.6,37.3Z M333.0,35.7 L317.2,44.9 L259.1,60.4 L258.0,56.9 L316.5,42.9 L332.6,34.2Z M332.1,32.7 L315.5,40.0 L256.9,53.4 L255.8,48.9 L314.8,37.5 L331.6,30.7Z" fill="#8c7082"/>
<path d="M252,17 A137 137 0 0 0 526,17 L446,17 A57 57 0 0 1 332,17 Z" fill="#fff" filter="url(#f_crn)"/>
<path d="M252,17 A137 137 0 0 0 526,17 L446,17 A57 57 0 0 1 332,17 Z" fill="#fff" filter="url(#f_crd)"/>
<circle cx="389" cy="17" r="58.2" fill="none" stroke="#dfd5dc" stroke-width="3.4"/>
<circle cx="389" cy="17" r="55.2" fill="none" stroke="#cfbecb" stroke-width="1.0"/>
<g clip-path="url(#lowhalf)"><path d="M372.5,36.6 C376.9,35.2 380.8,34.8 385.7,34.8 C390.6,34.8 396.8,35.0 401.7,36.6 C406.6,38.2 411.4,41.5 414.9,44.6 C418.4,47.7 420.7,51.0 422.9,55.2 C425.1,59.4 427.5,64.7 428.2,69.8 C428.9,74.9 428.2,80.8 426.9,85.7 C425.6,90.6 423.5,95.0 420.2,99.0 C416.9,103.0 412.3,107.0 407.0,109.6 C401.7,112.2 394.6,114.2 388.4,114.4 C382.2,114.6 375.6,113.2 369.8,110.9 C364.1,108.6 358.1,104.5 353.9,100.3 C349.7,96.1 346.5,90.8 344.6,85.7 C342.8,80.6 342.1,74.9 342.8,69.8 C343.5,64.7 345.9,59.6 348.6,55.2 C351.3,50.8 355.2,46.4 359.2,43.3 C363.2,40.2 368.1,38.0 372.5,36.6Z" fill="none" stroke="#8c7286" stroke-width="1.8" opacity="0.55"/></g>
<path d="M372.5,36.6 C376.9,35.2 380.8,34.8 385.7,34.8 C390.6,34.8 396.8,35.0 401.7,36.6 C406.6,38.2 411.4,41.5 414.9,44.6 C418.4,47.7 420.7,51.0 422.9,55.2 C425.1,59.4 427.5,64.7 428.2,69.8 C428.9,74.9 428.2,80.8 426.9,85.7 C425.6,90.6 423.5,95.0 420.2,99.0 C416.9,103.0 412.3,107.0 407.0,109.6 C401.7,112.2 394.6,114.2 388.4,114.4 C382.2,114.6 375.6,113.2 369.8,110.9 C364.1,108.6 358.1,104.5 353.9,100.3 C349.7,96.1 346.5,90.8 344.6,85.7 C342.8,80.6 342.1,74.9 342.8,69.8 C343.5,64.7 345.9,59.6 348.6,55.2 C351.3,50.8 355.2,46.4 359.2,43.3 C363.2,40.2 368.1,38.0 372.5,36.6Z" fill="none" stroke="#cbbcc8" stroke-width="1.2" opacity="0.6"/>
</g></g>
<g filter="url(#b_coadt)"><g clip-path="url(#c_coadt)">
<rect x="440.9" y="33.6" width="89.0" height="87.4" fill="#b1a8bb"/>
<g clip-path="url(#hl)"><g transform="rotate(12 465 78)"><rect x="400" y="0" width="140" height="160" filter="url(#gl_l)"/></g></g><g clip-path="url(#hr)"><g transform="rotate(-28 505 78)"><rect x="400" y="0" width="140" height="160" filter="url(#gl_r)"/></g></g>
<rect x="440.9" y="33.6" width="89.0" height="87.4" filter="url(#f_coadt_0)"/>
<rect x="440.9" y="33.6" width="89.0" height="87.4" filter="url(#f_coadt_1)"/>
<rect x="440.9" y="33.6" width="89.0" height="87.4" filter="url(#f_coadt_2)"/>
<path d="M487,36 C487.5,44 487,52 487,60 C488,64 490,68 490,72 C488,78 486,84 484,89 C482,94 480,99 477,104 C475,108 473,112 471,116" stroke="#f1edf2" stroke-width="1.6" fill="none"/>
<path d="M489,50 C496,53 503,57 510,58" stroke="#f1edf2" stroke-width="1.1" fill="none"/>
<path d="M491,41 C496,43 500,46 503,50" stroke="#f1edf2" stroke-width="1.2" fill="none"/>
<path d="M444.5,66 C446.5,68 449,71 451,74" stroke="#f1edf2" stroke-width="1.3" fill="none"/>
<path d="M517,54 C519,57 521,60 523,63" stroke="#f1edf2" stroke-width="1" fill="none"/>
<path d="M468,43 C472,45 476,44 480,42" stroke="#f1edf2" stroke-width="1.2" fill="none"/>
<path d="M470,112 C468,115 466,117 463,118" stroke="#e8e2ea" stroke-width="1" fill="none"/>
<g filter="url(#soft2)" opacity="0.55"><path d="M463,60 C470,56 478,58 482,66 C484,76 480,86 474,93 C468,89 464,78 463,60Z" fill="#beb6cc"/><path d="M493,60 C497,70 499,82 497,95 C494,90 492,76 493,60Z" fill="#c2bace"/><path d="M500,92 C506,96 510,102 512,108 C506,106 502,100 500,92Z" fill="#c2bace"/></g>
<ellipse cx="515" cy="56" rx="2.2" ry="1.3" fill="#4a2a3a" opacity="0.8"/>
<path d="M449,50 C451,56 453,62 455,68 L452,68 C450,62 449,56 449,50Z" fill="#f1edf2"/>
<path d="M486,37 C489,41 492,45 496,50 L493,51 C490,47 487,42 486,37Z" fill="#f1edf2"/>
<path d="M466.0,39.2 C470.1,37.2 475.2,36.8 478.9,36.6 C482.6,36.4 485.4,37.5 488.0,37.9 C490.6,38.3 491.7,39.2 494.5,39.2 C497.3,39.2 501.4,37.0 504.8,37.9 C508.2,38.8 512.2,41.2 515.2,44.4 C518.2,47.6 521.0,52.1 523.0,57.3 C525.0,62.5 526.7,69.5 526.9,75.5 C527.1,81.5 526.8,88.1 524.3,93.6 C521.8,99.1 516.2,105.0 512.0,108.5 C507.8,112.0 503.8,113.2 499.0,114.8 C494.2,116.4 488.2,118.1 483.0,118.0 C477.8,117.9 473.0,116.8 468.0,114.3 C463.0,111.8 457.0,108.2 453.0,103.0 C449.0,97.8 445.2,90.0 443.9,83.3 C442.6,76.5 443.5,68.3 445.2,62.5 C446.9,56.7 450.8,52.2 454.3,48.3 C457.8,44.4 461.9,41.2 466.0,39.2Z" fill="none" stroke="#7a5666" stroke-width="1.6" opacity="0.6"/>
</g></g>
<g filter="url(#b_lihcn)"><g clip-path="url(#c_lihcn)">
<rect x="345.6" y="129.5" width="84.3" height="86.9" fill="#c1b7c8"/>

<rect x="345.6" y="129.5" width="84.3" height="86.9" filter="url(#f_lihcn_0)"/>
<rect x="345.6" y="129.5" width="84.3" height="86.9" filter="url(#f_lihcn_1)"/>
<rect x="345.6" y="129.5" width="84.3" height="86.9" filter="url(#f_lihcn_2)"/>
<path d="M381,140.5 C384,138 388,136.5 392.5,135.5" stroke="#f6f2f6" stroke-width="1.4" fill="none"/>
<ellipse cx="354.7" cy="168.5" rx="3" ry="1.4" transform="rotate(-35 354.7 168.5)" fill="#f6f2f6"/>
<path d="M402,205 C405,201.5 409,200.5 412,201.5 C410,205 406,207 402,205Z" fill="#eeeaf2" stroke="#746c98" stroke-width="0.9"/>
<circle cx="384.4" cy="175.2" r="0.8" fill="#f4f0f4"/>
<path d="M381.8,132.8 C386.7,131.8 390.1,131.5 395.0,132.5 C399.9,133.5 406.1,135.3 411.0,139.0 C415.9,142.7 421.6,149.3 424.2,154.5 C426.8,159.7 427.1,164.2 426.9,170.4 C426.7,176.6 426.0,185.5 422.9,191.7 C419.8,197.9 413.8,204.0 408.3,207.6 C402.8,211.2 395.4,212.7 389.7,213.4 C383.9,214.1 379.1,213.5 373.8,211.6 C368.5,209.7 361.5,205.3 358.0,202.0 C354.5,198.7 354.2,196.5 352.6,191.7 C351.0,186.9 348.6,179.2 348.6,173.0 C348.6,166.8 349.7,160.2 352.6,154.5 C355.5,148.8 361.0,142.2 365.9,138.6 C370.8,135.0 376.9,133.8 381.8,132.8Z" fill="none" stroke="#a896ac" stroke-width="1.2" opacity="0.5"/>
</g></g>
<g filter="url(#b_lihct)"><g clip-path="url(#c_lihct)">
<rect x="441.0" y="129.0" width="87.8" height="87.4" fill="#b3a7c1"/>

<rect x="441.0" y="129.0" width="87.8" height="87.4" filter="url(#f_lihct_0)"/>
<rect x="441.0" y="129.0" width="87.8" height="87.4" filter="url(#f_lihct_1)"/>
<rect x="441.0" y="129.0" width="87.8" height="87.4" filter="url(#f_lihct_2)"/>
<rect x="441.0" y="129.0" width="87.8" height="87.4" filter="url(#f_lihct_3)"/>
<g filter="url(#soft3)" opacity="0.6"><path d="M468,136 C480,137 494,139 507,146 C503,156 497,166 491,177 C486,168 480,158 473,149 Z" fill="#c8c2d6"/><path d="M486,167 C496,175 506,183 517,191" stroke="#c8c2d6" stroke-width="2.4" fill="none"/></g>
<path d="M479.8,132.0 C484.7,131.2 488.5,131.6 493.0,132.8 C497.5,134.0 503.0,136.3 507.0,139.0 C511.0,141.7 514.4,144.4 516.9,149.2 C519.4,154.0 520.7,163.8 522.2,167.8 C523.7,171.9 525.9,171.8 525.8,173.5 C525.7,175.2 522.5,175.0 521.5,178.0 C520.5,181.0 522.1,187.0 519.6,191.7 C517.1,196.4 512.1,202.6 506.3,206.2 C500.5,209.8 491.6,212.9 485.0,213.4 C478.4,213.9 472.2,212.1 466.5,208.9 C460.8,205.7 454.4,200.3 450.6,194.3 C446.9,188.3 444.2,180.2 444.0,173.1 C443.8,166.0 446.0,157.9 449.3,151.9 C452.6,145.9 458.8,140.6 463.9,137.3 C469.0,134.0 474.9,132.8 479.8,132.0Z" fill="none" stroke="#8e6e84" stroke-width="1.2" opacity="0.5"/>
</g></g>
<g filter="url(#b_ovn)"><g clip-path="url(#c_ovn)">
<rect x="342.2" y="221.7" width="89.0" height="90.8" fill="#aea3ba"/>
<ellipse cx="410" cy="262" rx="20" ry="30" fill="#bab2ca" opacity="0.5"/>
<rect x="342.2" y="221.7" width="89.0" height="90.8" filter="url(#f_ovn_0)"/>
<rect x="342.2" y="221.7" width="89.0" height="90.8" filter="url(#f_ovn_1)"/>
<rect x="342.2" y="221.7" width="89.0" height="90.8" filter="url(#f_ovn_2)"/>
<ellipse cx="377" cy="240" rx="0.8" ry="2.6" transform="rotate(20 377 240)" fill="#c8aa88" opacity="0.6"/>
<ellipse cx="381" cy="246" rx="0.8" ry="2.2" transform="rotate(10 381 246)" fill="#c8aa88" opacity="0.6"/>
<ellipse cx="364" cy="256" rx="0.8" ry="1.8" transform="rotate(-10 364 256)" fill="#c8aa88" opacity="0.6"/>
<ellipse cx="384" cy="236" rx="0.8" ry="1.6" transform="rotate(30 384 236)" fill="#c8aa88" opacity="0.6"/>
<ellipse cx="398" cy="262" rx="0.8" ry="1.8" transform="rotate(0 398 262)" fill="#c8aa88" opacity="0.6"/>
<ellipse cx="404" cy="279" rx="0.8" ry="2.2" transform="rotate(20 404 279)" fill="#c8aa88" opacity="0.6"/>
<ellipse cx="380" cy="296" rx="0.8" ry="2" transform="rotate(40 380 296)" fill="#c8aa88" opacity="0.6"/>
<ellipse cx="370" cy="290" rx="0.8" ry="1.5" transform="rotate(30 370 290)" fill="#c8aa88" opacity="0.6"/>
<path d="M402,227 C405,228 408,230 409,232 C406,232 403,230 402,227Z" fill="#f0eef2"/>
<path d="M381.8,225.2 C385.8,224.8 390.6,224.1 395.0,224.7 C399.4,225.3 403.9,225.9 408.3,228.6 C412.7,231.2 418.3,235.5 421.6,240.6 C424.9,245.7 427.3,253.4 428.2,259.1 C429.1,264.8 428.0,269.7 426.9,275.0 C425.8,280.3 424.7,286.4 421.6,291.0 C418.5,295.6 413.6,299.8 408.3,302.9 C403.0,306.0 395.4,308.6 389.7,309.5 C383.9,310.4 379.1,310.0 373.8,308.2 C368.5,306.4 362.3,303.5 357.9,298.9 C353.5,294.3 349.4,286.1 347.3,280.4 C345.2,274.6 345.0,269.7 345.2,264.4 C345.4,259.1 346.0,253.8 348.6,248.5 C351.2,243.2 356.8,236.1 360.6,232.6 C364.4,229.1 367.7,228.5 371.2,227.3 C374.7,226.1 377.8,225.6 381.8,225.2Z" fill="none" stroke="#9088a8" stroke-width="1.2" opacity="0.5"/>
</g></g>
<g filter="url(#b_ovt)"><g clip-path="url(#c_ovt)">
<rect x="441.0" y="227.0" width="87.4" height="84.8" fill="#c5bdcd"/>
<g clip-path="url(#ovt_arc)"><rect x="440" y="225" width="90" height="90" filter="url(#ovt_bl)"/></g><g clip-path="url(#ovt_mid)" opacity="0.6"><rect x="440" y="225" width="90" height="90" filter="url(#ovt_bl)"/></g>
<rect x="441.0" y="227.0" width="87.4" height="84.8" filter="url(#f_ovt_0)"/>
<rect x="441.0" y="227.0" width="87.4" height="84.8" filter="url(#f_ovt_1)"/>
<rect x="441.0" y="227.0" width="87.4" height="84.8" filter="url(#f_ovt_2)"/>
<path d="M496,304.5 C502,302 508,300 513,298 L515,303 C509,305 503,306 496,304.5Z" fill="#f2f2f2"/>
<path d="M466.5,232.6 C470.1,230.9 474.5,230.3 479.8,230.0 C485.1,229.7 493.1,229.9 498.4,230.8 C503.7,231.7 508.1,233.0 511.6,235.3 C515.1,237.6 517.4,240.4 519.6,244.6 C521.8,248.8 523.9,255.2 524.9,260.5 C525.9,265.8 526.1,271.5 525.4,276.4 C524.7,281.3 523.2,285.7 520.9,289.7 C518.6,293.7 514.9,297.6 511.6,300.3 C508.3,303.0 505.4,304.2 501.0,305.6 C496.6,307.0 490.3,308.8 485.0,308.8 C479.7,308.8 474.1,307.5 469.2,305.6 C464.3,303.7 459.7,301.1 455.9,297.6 C452.1,294.1 448.6,289.3 446.6,284.4 C444.6,279.5 444.0,273.3 444.0,268.4 C444.0,263.5 445.3,258.5 446.6,255.2 C447.9,251.9 450.1,251.0 452.0,248.5 C453.9,246.0 455.6,242.7 458.0,240.0 C460.4,237.3 462.9,234.3 466.5,232.6Z" fill="none" stroke="#9c8098" stroke-width="1.0" opacity="0.45"/>
</g></g>
<text x="342" y="116" class="sb">200μm</text>
<rect x="342" y="117.05" width="12.8" height="0.95" fill="#222"/>
<text x="440.3" y="116" class="sb">200μm</text>
<rect x="440.3" y="117.05" width="12.8" height="0.95" fill="#222"/>
<text x="342" y="214.9" class="sb">200μm</text>
<rect x="342" y="215.95" width="12.8" height="0.95" fill="#222"/>
<text x="440.3" y="214.9" class="sb">200μm</text>
<rect x="440.3" y="215.95" width="12.8" height="0.95" fill="#222"/>
<text x="342" y="312" class="sb">200μm</text>
<rect x="342" y="313.05" width="12.8" height="0.95" fill="#222"/>
<text x="440.3" y="312" class="sb">200μm</text>
<rect x="440.3" y="313.05" width="12.8" height="0.95" fill="#222"/>
<text x="386.2" y="22.3" class="hd">Normal tissue</text>
<text x="483.8" y="22.3" class="hd">Tumor tissue</text>
<rect x="343" y="24.2" width="87" height="1.5" fill="#808080"/>
<rect x="440" y="24.2" width="87" height="1.5" fill="#808080"/>
<text transform="translate(539.4 74.9) rotate(-90)" class="rl">COAD</text>
<text transform="translate(539.4 172.8) rotate(-90)" class="rl">LIHC</text>
<text transform="translate(539.4 271.2) rotate(-90)" class="rl">OV</text>
</svg>
</body></html>
